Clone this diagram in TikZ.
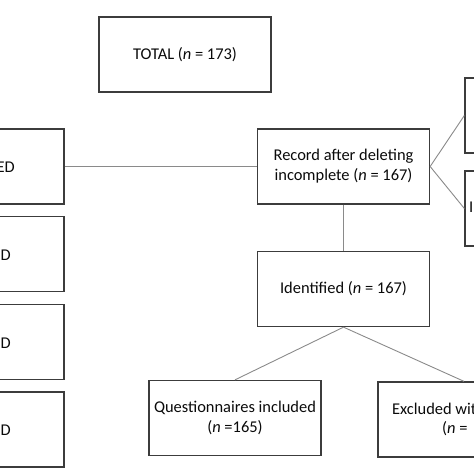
\documentclass[tikz,border=0pt]{standalone}
\usepackage{fontspec}
\setmainfont{Carlito}
\definecolor{boxgray}{HTML}{3C3C3C}
\definecolor{linkgray}{HTML}{8A8A8A}
\definecolor{txt}{HTML}{0A0A0A}
\begin{document}
\begin{tikzpicture}[x=1bp,y=-1bp,
  box/.style={draw=boxgray, line width=1.3bp, minimum width=172bp, minimum height=75bp, inner sep=0pt, align=center, text=txt, font=\fontsize{16.5}{20}\selectfont},
  lbl/.style={inner sep=0pt, text=txt, font=\fontsize{16.5}{20}\selectfont},
  link/.style={draw=linkgray, line width=0.9bp}]
\useasboundingbox (0,0) rectangle (474,474);
\clip (0,0) rectangle (474,474);
\node[box] (total) at (185,54.5) {TOTAL (\textit{n} = 173)};
\node[box] (record) at (343.5,166.5) {Record after deleting\\incomplete (\textit{n} = 167)};
\node[box] (ident) at (343.5,289) {Identified (\textit{n} = 167)};
\node[box] (quest) at (235,418) {Questionnaires included\\(\textit{n} =165)};
\node[box] (excl) at (464,419.5) {};
\node[box] (r1) at (551,115.5) {};
\node[box] (r2) at (551,208.5) {};
\node[box] (l1) at (-22,166.5) {};
\node[box] (l2) at (-22,254) {};
\node[box] (l3) at (-22,342) {};
\node[box] (l4) at (-22,429.5) {};
\node[lbl, anchor=east] (t1) at (15,167) {ED};
\node[lbl, anchor=east] (t2) at (11,255) {D};
\node[lbl, anchor=east] (t3) at (11,343) {D};
\node[lbl, anchor=east] (t4) at (11,430) {D};
\node[lbl, anchor=west] (t5) at (469,207) {I};
\node[lbl, anchor=west] (t6) at (392,409) {Excluded wit};
\node[lbl, anchor=west] (t7) at (442,429) {(\textit{n} =};
\draw[link] (l1.east) -- (record.west);
\draw[link] (record.south) -- (ident.north);
\draw[link] (record.east) -- (r1.west);
\draw[link] (record.east) -- (r2.west);
\draw[link] (ident.south) -- (quest.north);
\draw[link] (ident.south) -- (excl.north);
\end{tikzpicture}
\end{document}
